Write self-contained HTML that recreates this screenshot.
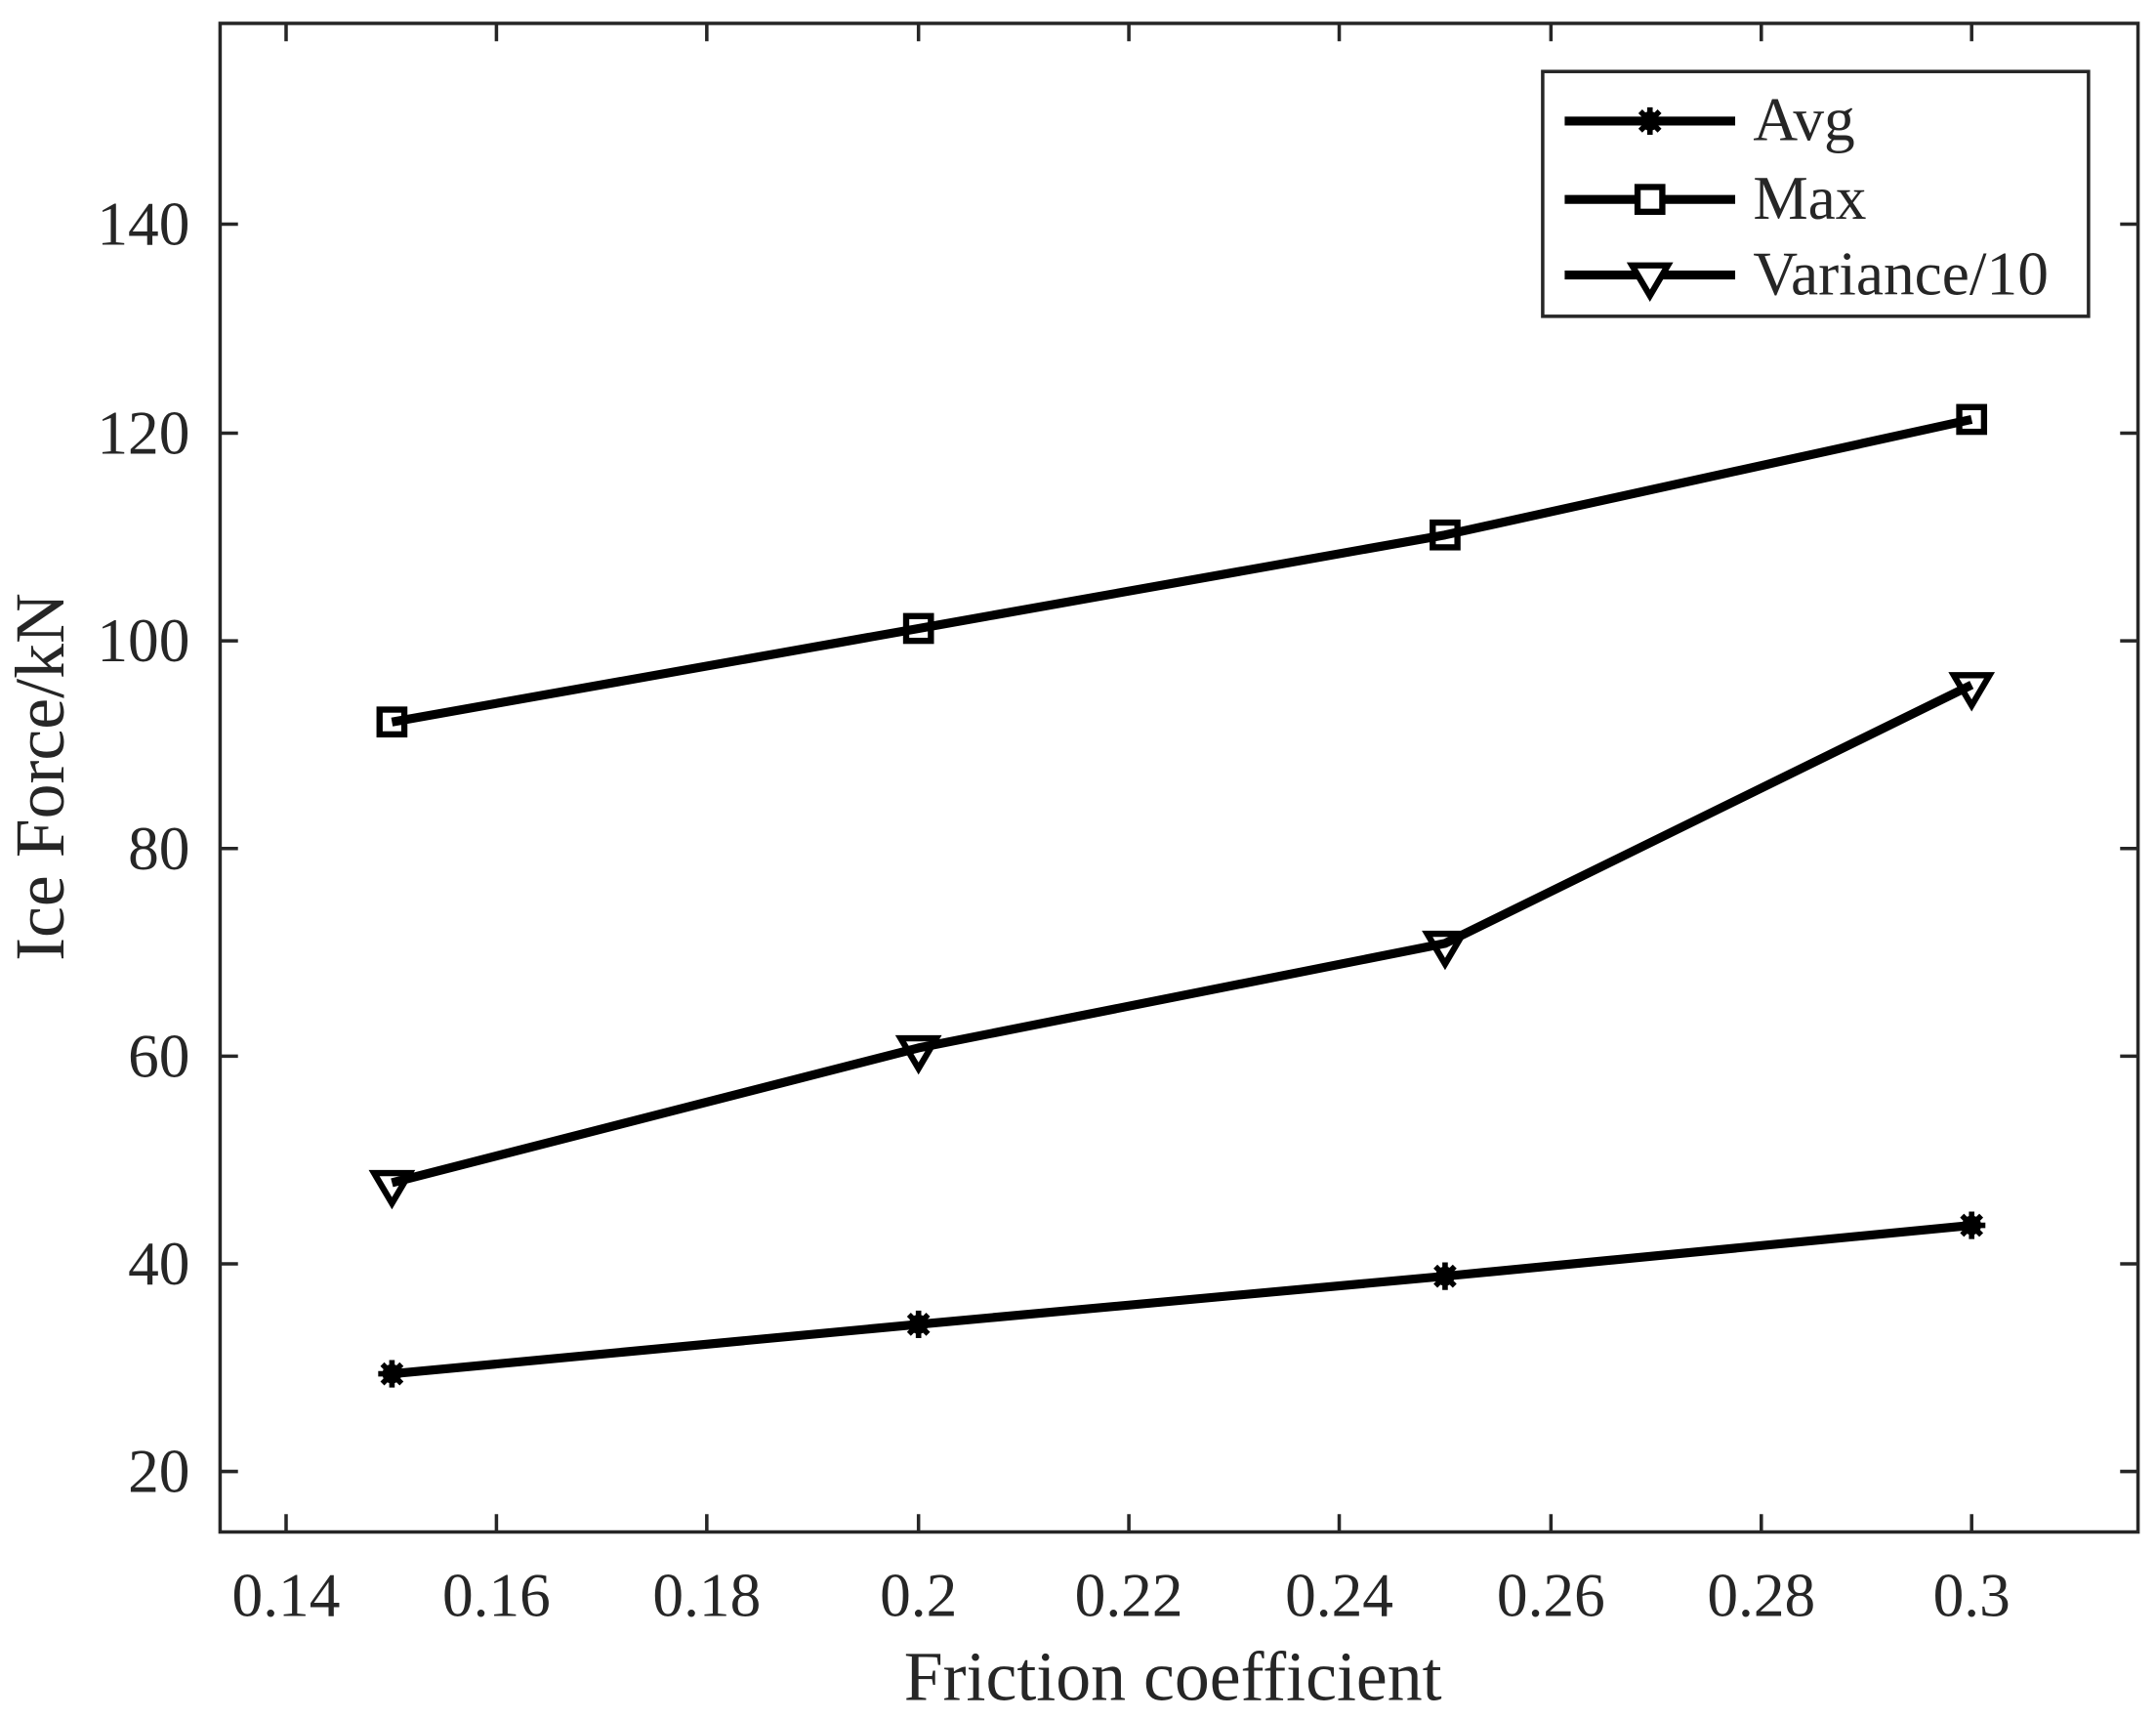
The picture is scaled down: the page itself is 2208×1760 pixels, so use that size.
<!DOCTYPE html>
<html><head><meta charset="utf-8"><style>html,body{margin:0;padding:0;background:#fff}svg{display:block}</style></head>
<body>
<svg width="2208" height="1760" viewBox="0 0 1568 1250" xmlns="http://www.w3.org/2000/svg" font-family="'Liberation Serif', serif" fill="#262626">
<defs>
<g id="ast"><circle r="7" fill="#000"/><path d="M-10,0h20M0,-10v20M-7,-7l14,14M-7,7l14,-14" stroke="#000" stroke-width="4"/></g>
</defs>
<rect x="0" y="0" width="1568" height="1250" fill="#fff"/>
<g stroke="#262626" stroke-width="2.5" fill="none">
<rect x="160" y="17" width="1395" height="1097"/>
<path d="M208,1114v-13M361,1114v-13M514,1114v-13M668,1114v-13M821,1114v-13M974,1114v-13M1128,1114v-13M1281,1114v-13M1434,1114v-13
M208,17v13M361,17v13M514,17v13M668,17v13M821,17v13M974,17v13M1128,17v13M1281,17v13M1434,17v13
M160,1070h13M160,919h13M160,768h13M160,617h13M160,466h13M160,315h13M160,163h13
M1555,1070h-13M1555,919h-13M1555,768h-13M1555,617h-13M1555,466h-13M1555,315h-13M1555,163h-13"/>
</g>
<g font-size="45" text-anchor="end">
<text x="138" y="1085">20</text><text x="138" y="934">40</text><text x="138" y="783">60</text><text x="138" y="632">80</text><text x="138" y="481">100</text><text x="138" y="330">120</text><text x="138" y="178">140</text>
</g>
<g font-size="45" text-anchor="middle">
<text x="208" y="1175">0.14</text><text x="361" y="1175">0.16</text><text x="514" y="1175">0.18</text><text x="668" y="1175">0.2</text><text x="821" y="1175">0.22</text><text x="974" y="1175">0.24</text><text x="1128" y="1175">0.26</text><text x="1281" y="1175">0.28</text><text x="1434" y="1175">0.3</text>
</g>
<text x="853" y="1236" font-size="51" text-anchor="middle">Friction coefficient</text>
<text transform="translate(46,565) rotate(-90)" font-size="51" text-anchor="middle">Ice  Force/kN</text>
<g stroke="#000" stroke-width="6.5" fill="none" stroke-linejoin="round">
<polyline points="285,999 668,963 1051,928 1434,891"/>
<polyline points="285,525 668,457 1051,389 1434,305"/>
<polyline points="285,860 668,762 1051,686 1434,498"/>
</g>
<g stroke="#000" stroke-width="4.5" fill="none">
<rect x="276" y="516" width="18" height="18"/><rect x="659" y="448" width="18" height="18"/><rect x="1042" y="380" width="18" height="18"/><rect x="1425" y="296" width="18" height="18"/>
<path d="M272,853h26l-13,22z"/><path d="M655,755h26l-13,22z"/><path d="M1038,679h26l-13,22z"/><path d="M1421,491h26l-13,22z"/>
</g>
<use href="#ast" x="285" y="999"/><use href="#ast" x="668" y="963"/><use href="#ast" x="1051" y="928"/><use href="#ast" x="1434" y="891"/>
<rect x="1122" y="52" width="397" height="178" fill="#fff" stroke="#262626" stroke-width="2.5"/>
<g stroke="#000" stroke-width="6.5">
<path d="M1138,88h124M1138,145h124M1138,200h124"/>
</g>
<use href="#ast" x="1200" y="88"/>
<rect x="1191" y="136" width="18" height="18" fill="#fff" stroke="#000" stroke-width="4.5"/>
<path d="M1187,193h26l-13,22z" fill="#fff" stroke="#000" stroke-width="4.5"/>
<g font-size="45">
<text x="1275" y="102">Avg</text><text x="1275" y="159">Max</text><text x="1275" y="214">Variance/10</text>
</g>
</svg>
</body></html>
